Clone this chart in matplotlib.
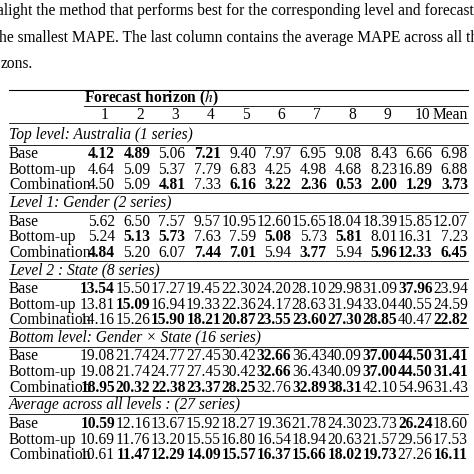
import matplotlib.pyplot as plt

plt.rcParams['font.family'] = ['Liberation Serif', 'DejaVu Serif']
plt.rcParams['mathtext.fontset'] = 'stix'

caption = [
    "alight the method that performs best for the corresponding level and forecast horizon, ba",
    "he smallest MAPE. The last column contains the average MAPE across all the fore",
    "zons.",
]
columns = ["1", "2", "3", "4", "5", "6", "7", "8", "9", "10", "Mean"]
methods = ["Base", "Bottom-up", "Combination"]
levels = [
    "Top level: Australia (1 series)",
    "Level 1: Gender (2 series)",
    "Level 2 : State (8 series)",
    "Bottom level: Gender \u00d7 State (16 series)",
    "Average across all levels : (27 series)",
]
values = [
    [[4.12, 4.89, 5.06, 7.21, 9.40, 7.97, 6.95, 9.08, 8.43, 6.66, 6.98],
     [4.64, 5.09, 5.37, 7.79, 6.83, 4.25, 4.98, 4.68, 8.23, 16.89, 6.88],
     [4.50, 5.09, 4.81, 7.33, 6.16, 3.22, 2.36, 0.53, 2.00, 1.29, 3.73]],
    [[5.62, 6.50, 7.57, 9.57, 10.95, 12.60, 15.65, 18.04, 18.39, 15.85, 12.07],
     [5.24, 5.13, 5.73, 7.63, 7.59, 5.08, 5.73, 5.81, 8.01, 16.31, 7.23],
     [4.84, 5.20, 6.07, 7.44, 7.01, 5.94, 3.77, 5.94, 5.96, 12.33, 6.45]],
    [[13.54, 15.50, 17.27, 19.45, 22.30, 24.20, 28.10, 29.98, 31.09, 37.96, 23.94],
     [13.81, 15.09, 16.94, 19.33, 22.36, 24.17, 28.63, 31.94, 33.04, 40.55, 24.59],
     [14.16, 15.26, 15.90, 18.21, 20.87, 23.55, 23.60, 27.30, 28.85, 40.47, 22.82]],
    [[19.08, 21.74, 24.77, 27.45, 30.42, 32.66, 36.43, 40.09, 37.00, 44.50, 31.41],
     [19.08, 21.74, 24.77, 27.45, 30.42, 32.66, 36.43, 40.09, 37.00, 44.50, 31.41],
     [18.95, 20.32, 22.38, 23.37, 28.25, 32.76, 32.89, 38.31, 42.10, 54.96, 31.43]],
    [[10.59, 12.16, 13.67, 15.92, 18.27, 19.36, 21.78, 24.30, 23.73, 26.24, 18.60],
     [10.69, 11.76, 13.20, 15.55, 16.80, 16.54, 18.94, 20.63, 21.57, 29.56, 17.53],
     [10.61, 11.47, 12.29, 14.09, 15.57, 16.37, 15.66, 18.02, 19.73, 27.26, 16.11]],
]
# column indices printed in bold (best method)
bold = [
    [[0, 1, 3], [], [2, 4, 5, 6, 7, 8, 9, 10]],
    [[], [1, 2, 5, 7], [0, 3, 4, 6, 8, 9, 10]],
    [[0, 9], [1], [2, 3, 4, 5, 6, 7, 8, 10]],
    [[5, 8, 9, 10], [5, 8, 9, 10], [0, 1, 2, 3, 4, 6, 7]],
    [[0, 9], [], [1, 2, 3, 4, 5, 6, 7, 8, 10]],
]

fig = plt.figure(figsize=(4.74, 4.74), dpi=100)
ax = fig.add_axes([0, 0, 1, 1])
ax.set_xlim(0, 474)
ax.set_ylim(474, 0)
ax.axis('off')

fs = 11.2
col_right = [115 + 35.3 * i for i in range(11)]
left = 9

for i, line in enumerate(caption):
    ax.text(i * 2 - 3, 11 + 26.5 * i, line, fontsize=fs, va='center', ha='left')

ax.plot([left, 468], [90, 90], color='black', lw=0.8)
ax.text(84, 98, "Forecast horizon ($h$)", fontsize=fs, fontweight='bold', va='center')
ax.plot([84, 468], [106, 106], color='black', lw=0.6)
for j, c in enumerate(columns):
    if c == "Mean":
        ax.text(col_right[j], 115, c, fontsize=fs, va='center', ha='right')
    else:
        ax.text(col_right[j] - 10, 115, c, fontsize=fs, va='center', ha='center')
ax.plot([left, 468], [123, 123], color='black', lw=0.6)

y = 135
for k, lev in enumerate(levels):
    ax.text(left, y, lev, fontsize=fs, style='italic', va='center')
    ax.plot([left, 468], [y + 9.5, y + 9.5], color='black', lw=0.6)
    y += 19
    for m, meth in enumerate(methods):
        ax.text(left, y, meth, fontsize=fs, va='center')
        for j, v in enumerate(values[k][m]):
            w = 'bold' if j in bold[k][m] else 'normal'
            ax.text(col_right[j], y, f"{v:.2f}", fontsize=fs, fontweight=w,
                    va='center', ha='right')
        if m < 2:
            y += 15.7
    if k < len(levels) - 1:
        ax.plot([left, 468], [y + 8, y + 8], color='black', lw=0.6)
    y += 17.1

fig.savefig("out.png", dpi=100)
